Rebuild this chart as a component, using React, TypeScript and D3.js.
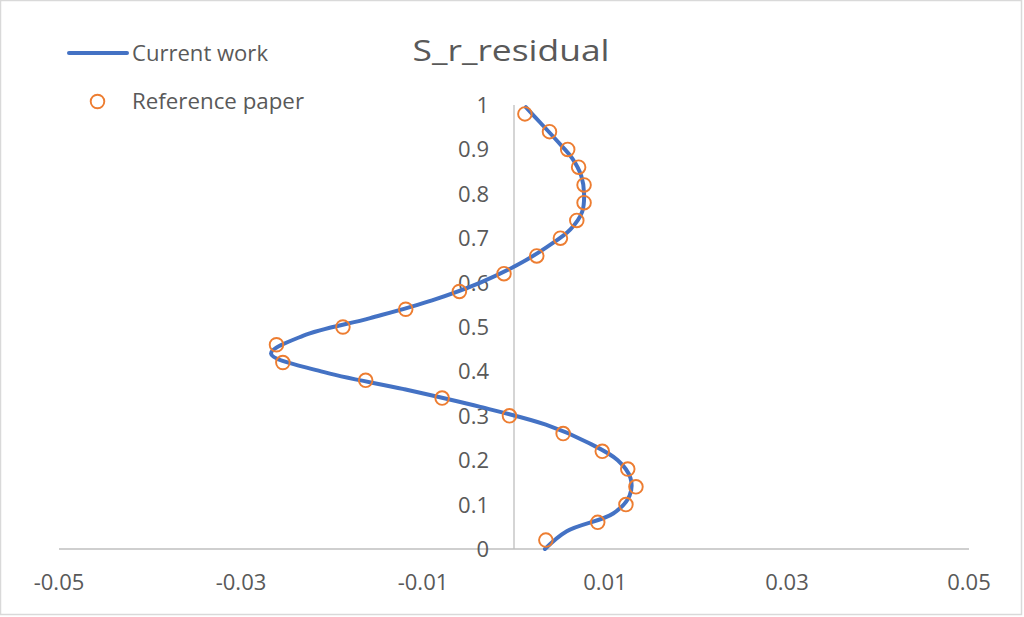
import React from "react";
import * as d3 from "d3";

const TITLE = "S_r_residual";
const SERIES_LINE = "Current work";
const SERIES_POINTS = "Reference paper";

// Current work (line)
const lineY = [0, 0.04, 0.08, 0.12, 0.16, 0.2, 0.24, 0.28, 0.32, 0.36, 0.4, 0.44, 0.48, 0.52, 0.56, 0.6, 0.64, 0.68, 0.72, 0.76, 0.8, 0.84, 0.88, 0.92, 0.96, 0.995];
const lineX = [0.0034, 0.0058, 0.0109, 0.0127, 0.0128, 0.0114, 0.0081, 0.0035, -0.0037, -0.0121, -0.0212, -0.0267, -0.0232, -0.0158, -0.009, -0.0037, 0.0004, 0.0036, 0.0062, 0.0075, 0.0077, 0.0074, 0.0064, 0.0047, 0.0029, 0.0013];

// Reference paper (markers)
const refY = [0.98, 0.94, 0.9, 0.86, 0.82, 0.78, 0.74, 0.7, 0.66, 0.62, 0.58, 0.54, 0.5, 0.46, 0.42, 0.38, 0.34, 0.3, 0.26, 0.22, 0.18, 0.14, 0.1, 0.06, 0.02];
const refX = [0.0012, 0.0039, 0.0059, 0.0071, 0.0077, 0.0077, 0.0069, 0.0051, 0.0025, -0.0011, -0.006, -0.0119, -0.0188, -0.0261, -0.0254, -0.0163, -0.0079, -0.0005, 0.0054, 0.0097, 0.0125, 0.0134, 0.0123, 0.0092, 0.0035];

const xTicks = [-0.05, -0.03, -0.01, 0.01, 0.03, 0.05];
const yTicks = [0, 0.1, 0.2, 0.3, 0.4, 0.5, 0.6, 0.7, 0.8, 0.9, 1];

const W = 1024;
const H = 617;
const FONT = "'Open Sans', 'Liberation Sans', sans-serif";
const TEXT = "#595959";
const AXIS = "#BFBFBF";
const BLUE = "#4472C4";
const ORANGE = "#ED7D31";

export default function App() {
  const x = d3.scaleLinear().domain([-0.05, 0.05]).range([59, 969]);
  const y = d3.scaleLinear().domain([0, 1]).range([549, 105]);

  const linePts: [number, number][] = lineX.map((v, i) => [v, lineY[i]]);
  const lineGen = d3
    .line<[number, number]>()
    .x((d) => x(d[0]))
    .y((d) => y(d[1]))
    .curve(d3.curveCatmullRom.alpha(0.5));

  const fmt = (v: number) => (v === 0 ? "0" : String(+v.toFixed(2)));

  return (
    <svg
      width={W}
      height={H}
      style={{ position: "absolute", left: 0, top: 0, background: "#fff" }}
      fontFamily={FONT}
    >
      <rect x={0.5} y={0.5} width={1021} height={614} fill="#fff" stroke="#D9D9D9" strokeWidth={1.5} />

      {/* title */}
      <text x={511} y={61} textAnchor="middle" fontSize={29} fill={TEXT} textLength={197} lengthAdjust="spacingAndGlyphs">
        {TITLE}
      </text>

      {/* axes */}
      <line x1={x(-0.05)} x2={x(0.05)} y1={y(0)} y2={y(0)} stroke={AXIS} strokeWidth={1.3} />
      <line x1={x(0)} x2={x(0)} y1={y(0)} y2={y(1)} stroke={AXIS} strokeWidth={1.3} />

      {/* y tick labels */}
      {yTicks.map((t) => (
        <text key={"y" + t} x={489} y={y(t)} dy="0.36em" textAnchor="end" fontSize={22} fill={TEXT}>
          {fmt(t)}
        </text>
      ))}

      {/* x tick labels */}
      {xTicks.map((t) => (
        <text key={"x" + t} x={x(t)} y={582} dy="0.36em" textAnchor="middle" fontSize={22} fill={TEXT}>
          {fmt(t)}
        </text>
      ))}

      {/* line series */}
      <path d={lineGen(linePts) || ""} fill="none" stroke={BLUE} strokeWidth={4} strokeLinecap="round" strokeLinejoin="round" />

      {/* marker series */}
      {refX.map((v, i) => (
        <circle key={"m" + i} cx={x(v)} cy={y(refY[i])} r={6.8} fill="none" stroke={ORANGE} strokeWidth={1.9} />
      ))}

      {/* legend */}
      <line x1={69} x2={127} y1={53} y2={53} stroke={BLUE} strokeWidth={4} strokeLinecap="round" />
      <text x={132} y={53} dy="0.36em" fontSize={22} fill={TEXT} textLength={136} lengthAdjust="spacingAndGlyphs">
        {SERIES_LINE}
      </text>
      <circle cx={97.5} cy={101.5} r={6.8} fill="none" stroke={ORANGE} strokeWidth={1.9} />
      <text x={132} y={101} dy="0.36em" fontSize={22} fill={TEXT} textLength={172} lengthAdjust="spacingAndGlyphs">
        {SERIES_POINTS}
      </text>
    </svg>
  );
}
